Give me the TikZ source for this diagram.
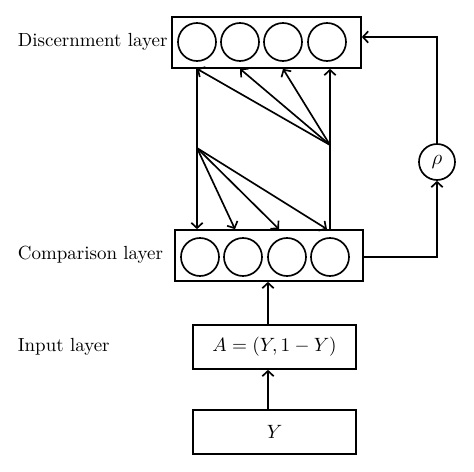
\documentclass[tikz,border=0pt]{standalone}
\usetikzlibrary{positioning,arrows.meta}
\begin{document}
\begin{tikzpicture}[x=0.02cm,y=-0.02cm,line width=0.95pt,>={Straight Barb[length=3pt,width=6.5pt]},
    layer/.style={draw,inner sep=0pt,minimum height=1.02cm},
    neuron/.style={draw,circle,inner sep=0pt,minimum size=0.76cm},
    lbl/.style={anchor=west,inner sep=0pt,font=\fontsize{10.8}{13}\selectfont}]
    \useasboundingbox (0,0) rectangle (474,472);
    % layers
    \node[layer,minimum width=3.78cm] (disc) at (266.5,42.5) {};
    \node[layer,minimum width=3.76cm] (comp) at (269,255.5) {};
    \node[layer,minimum width=3.26cm,minimum height=0.88cm,font=\fontsize{11}{13}\selectfont] (input) at (274.5,347) {$A=(Y,1-Y)$};
    \node[layer,minimum width=3.26cm,minimum height=0.88cm,font=\fontsize{11}{13}\selectfont] (y) at (274.5,432) {$Y$};
    \node[draw,circle,inner sep=0pt,minimum size=0.72cm,font=\fontsize{12}{14}\selectfont] (rho) at (437,162) {$\rho$};
    % neurons
    \foreach \x [count=\i] in {197,240,283,327}
        \node[neuron] (d\i) at (\x,42) {};
    \foreach \x [count=\i] in {200,243,287,330}
        \node[neuron] (c\i) at (\x,257) {};
    % labels
    \node[lbl] (ldisc) at (17,42) {Discernment layer};
    \node[lbl] (lcomp) at (17,255) {Comparison layer};
    \node[lbl] (linput) at (17,347) {Input layer};
    % fan points
    \coordinate (up) at (330,145);
    \coordinate (down) at (197,148);
    % discernment -> comparison
    \draw[->] (disc.south -| down) -- (comp.north -| down);
    \foreach \x in {235,279,327}
        \draw[->] (down) -- (comp.north -| \x,0);
    % comparison -> discernment
    \draw[->] (comp.north -| up) -- (disc.south -| up);
    \foreach \x in {197,240,283}
        \draw[->] (up) -- (disc.south -| \x,0);
    % input
    \draw[->] (y.north -| 268,0) -- (input.south -| 268,0);
    \draw[->] (input.north -| 268,0) -- (comp.south -| 268,0);
    % reset loop
    \draw[->] (comp.east |- c4) -| (rho.south);
    \draw[->] (rho.north) |- (disc.east |- 0,37);
\end{tikzpicture}
\end{document}
